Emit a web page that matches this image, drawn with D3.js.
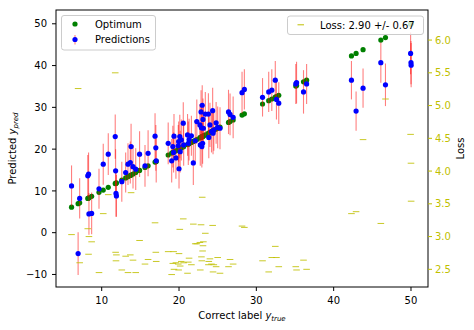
<!DOCTYPE html>
<html><head><meta charset="utf-8">
<script src="https://cdn.jsdelivr.net/npm/d3@7"></script>
<style>body{margin:0;background:#fff}svg{display:block;font-family:"DejaVu Sans",sans-serif}</style>
</head><body><svg id="c" width="474" height="330"></svg>
<script>
const trueLabels = [6.1,6.95,7.15,8.2,8.3,8.35,8.7,9.65,10.2,10.85,11.75,11.8,11.85,11.9,12.6,13.1,13.4,13.7,13.8,14.05,14.4,14.9,15.6,16.0,16.9,17.0,17.05,
 18.6,19.05,19.2,19.3,19.35,19.6,19.9,19.95,20.0,20.1,20.15,20.3,20.55,20.6,21.1,21.2,21.3,21.6,21.85,22.1,22.3,22.7,22.75,22.85,22.9,22.95,23.0,23.05,23.1,23.15,23.4,23.8,23.85,24.0,24.2,24.35,24.4,24.5,24.8,25.0,25.3,
 26.4,26.6,27.0,28.15,28.45,30.8,31.6,32.0,32.45,32.6,32.9,35.1,35.2,36.1,36.5,42.3,42.9,43.8,46.1,46.7,49.95,50.0,50.02];
const predictions = [11.2,-5.0,8.2,13.6,14.0,4.5,4.6,10.5,16.4,18.8,23.0,14.8,9.4,8.8,12.2,14.4,16.4,16.8,20.6,15.8,15.2,18.8,16.0,19.0,23.1,20.3,17.2,
 21.4,17.2,20.6,19.2,23.1,17.9,20.8,21.8,15.3,23.0,19.4,22.2,26.2,21.0,23.4,21.4,22.3,23.2,16.7,22.0,26.6,25.8,21.0,28.9,25.1,20.6,30.5,21.4,27.1,25.0,28.4,28.4,22.8,25.8,24.2,29.2,23.8,24.6,26.3,25.2,25.0,
 28.9,28.3,27.6,33.5,34.3,32.4,33.7,34.1,36.5,31.9,31.0,35.6,35.9,33.7,35.6,36.5,29.1,34.6,40.7,35.4,42.9,40.7,40.1];
const predErrors = [4.9,5.1,4.8,5.0,5.2,5.0,5.0,4.8,4.9,5.0,5.3,5.2,5.6,5.0,4.8,4.8,5.0,5.0,5.5,5.2,5.0,5.5,5.0,5.5,5.5,5.5,5.2,
 5.0,5.2,5.0,4.8,5.3,5.0,5.0,4.8,4.7,5.2,5.0,4.9,5.0,5.0,5.0,5.2,5.0,4.8,5.3,5.0,5.3,5.0,5.0,5.2,5.0,5.0,4.8,4.9,5.0,5.0,5.3,5.0,5.0,5.3,5.0,5.5,5.0,5.0,5.0,5.0,5.0,
 5.3,5.0,5.0,5.0,4.8,4.6,4.8,5.0,4.6,4.8,5.0,4.8,5.0,5.2,4.8,4.6,4.7,4.7,4.8,5.1,5.0,5.2,5.3];
const losses = [3.03,5.26,2.60,3.12,2.73,3.00,2.92,2.45,3.35,3.64,5.50,2.76,2.63,2.72,2.49,2.70,2.45,2.72,3.67,2.64,2.45,2.94,2.58,2.65,3.21,2.76,2.62,
 2.77,2.42,2.59,2.77,2.50,2.60,2.58,2.49,2.74,3.11,2.55,2.62,3.27,2.60,2.44,2.61,2.67,2.57,3.19,2.89,2.89,2.91,2.49,3.18,2.69,2.63,3.60,2.78,2.86,2.92,3.05,2.57,2.62,2.66,2.58,3.17,2.46,2.57,2.54,2.68,2.44,
 2.54,2.65,2.58,3.16,3.14,2.63,2.46,2.68,2.85,2.68,2.54,2.54,2.49,2.64,2.50,3.35,3.38,4.48,3.20,5.10,4.56,4.12,3.54];
const xTicks = [10,20,30,40,50];
const yTicks = [-10,0,10,20,30,40,50];
const lossTicks = [2.5,3.0,3.5,4.0,4.5,5.0,5.5,6.0];
const legendLabels = ["Optimum","Predictions"];
const lossLegend = "Loss: 2.90 +/- 0.67";

const L=56,R=428,T=10,B=287;
const svg=d3.select("#c");
const x=d3.scaleLinear().domain([4.09,52.2]).range([L,R]);
const y=d3.scaleLinear().domain([-13,53.3]).range([B,T]);
const y2=d3.scaleLinear().domain([2.23,6.459]).range([B,T]);
const samples=trueLabels.map((t,i)=>({t,p:predictions[i],e:predErrors[i],l:losses[i]}));
const YC="#bfbf00";

const g=svg.append("g");
// optimum
g.selectAll(".opt").data(samples).join("circle").attr("cx",d=>x(d.t)).attr("cy",d=>y(d.t)).attr("r",2.6).attr("fill","#008000");
// error bars
g.selectAll(".eb").data(samples).join("line").attr("x1",d=>x(d.t)).attr("x2",d=>x(d.t))
 .attr("y1",d=>y(d.p-d.e)).attr("y2",d=>y(d.p+d.e)).attr("stroke","#ff0000").attr("stroke-opacity",0.5).attr("stroke-width",1.1);
g.selectAll(".pr").data(samples).join("circle").attr("cx",d=>x(d.t)).attr("cy",d=>y(d.p)).attr("r",2.6).attr("fill","#0000ff");

// left legend
const lg=svg.append("g");
lg.append("rect").attr("x",61.5).attr("y",15.5).attr("width",94).attr("height",34.5).attr("rx",2.5)
 .attr("fill","#fff").attr("fill-opacity",0.8).attr("stroke","#cccccc");
lg.append("circle").attr("cx",75).attr("cy",24).attr("r",2.6).attr("fill","#008000");
lg.append("line").attr("x1",75).attr("x2",75).attr("y1",35).attr("y2",44.5).attr("stroke","#ff0000").attr("stroke-opacity",0.5).attr("stroke-width",1.1);
lg.append("circle").attr("cx",75).attr("cy",39.5).attr("r",2.6).attr("fill","#0000ff");
lg.selectAll("text").data(legendLabels).join("text").attr("x",95).attr("y",(d,i)=>24+i*15.5).attr("dy","0.36em")
 .attr("font-size",10).attr("fill","#000").text(d=>d);

// loss markers (twin axis)
const g2=svg.append("g");
g2.selectAll("line").data(samples).join("line").attr("x1",d=>x(d.t)-3.3).attr("x2",d=>x(d.t)+3.3)
 .attr("y1",d=>y2(d.l)).attr("y2",d=>y2(d.l)).attr("stroke",YC).attr("stroke-opacity",0.85).attr("stroke-width",1);

// right legend
const rl=svg.append("g");
rl.append("rect").attr("x",287.5).attr("y",16).attr("width",136).attr("height",18.5).attr("rx",2.5)
 .attr("fill","#fff").attr("fill-opacity",0.8).attr("stroke","#cccccc");
rl.append("line").attr("x1",297.5).attr("x2",304).attr("y1",24.8).attr("y2",24.8).attr("stroke",YC).attr("stroke-width",1);
rl.append("text").attr("x",320).attr("y",25).attr("dy","0.36em").attr("font-size",10).attr("fill","#000").text(lossLegend);

// frame
svg.append("rect").attr("x",L).attr("y",T).attr("width",R-L).attr("height",B-T).attr("fill","none").attr("stroke","#000").attr("stroke-width",1);

// axes ticks
const ax=svg.append("g");
ax.selectAll(".xt").data(xTicks).join("line").attr("x1",d=>x(d)).attr("x2",d=>x(d)).attr("y1",B).attr("y2",B+4).attr("stroke","#000");
ax.selectAll(".xl").data(xTicks).join("text").attr("x",d=>x(d)).attr("y",303.5).attr("text-anchor","middle").attr("font-size",10).text(d=>d);
ax.selectAll(".yt").data(yTicks).join("line").attr("x1",L-4).attr("x2",L).attr("y1",d=>y(d)).attr("y2",d=>y(d)).attr("stroke","#000");
ax.selectAll(".yl").data(yTicks).join("text").attr("x",47).attr("y",d=>y(d)).attr("dy","0.36em").attr("text-anchor","end").attr("font-size",10)
 .text(d=>d<0?"\u2212"+Math.abs(d):d);
ax.selectAll(".rt").data(lossTicks).join("line").attr("x1",R).attr("x2",R+4).attr("y1",d=>y2(d)).attr("y2",d=>y2(d)).attr("stroke",YC);
ax.selectAll(".rlb").data(lossTicks).join("text").attr("x",435).attr("y",d=>y2(d)).attr("dy","0.36em").attr("font-size",10).attr("fill",YC)
 .text(d=>d.toFixed(1));

// axis labels
const xl=svg.append("text").attr("x",242).attr("y",319).attr("text-anchor","middle").attr("font-size",10);
xl.append("tspan").text("Correct label ");
xl.append("tspan").attr("font-style","italic").text("y");
xl.append("tspan").attr("font-style","italic").attr("font-size",7).attr("dy",2).text("true");
const yl=svg.append("text").attr("transform","translate(16,148.5) rotate(-90)").attr("text-anchor","middle").attr("font-size",10);
yl.append("tspan").text("Predicted ");
yl.append("tspan").attr("font-style","italic").text("y");
yl.append("tspan").attr("font-style","italic").attr("font-size",7).attr("dy",2).text("pred");
svg.append("text").attr("transform","translate(464,148.5) rotate(-90)").attr("text-anchor","middle").attr("font-size",10).text("Loss");
</script></body></html>
